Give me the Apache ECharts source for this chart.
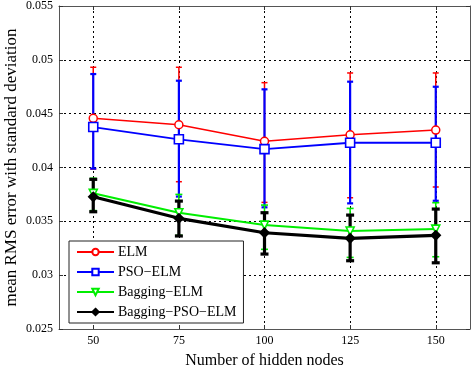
<!DOCTYPE html>
<html><head><meta charset="utf-8">
<script src="https://cdn.jsdelivr.net/npm/echarts@6/dist/echarts.min.js"></script>
<style>html,body{margin:0;padding:0;background:#fff}#c{width:474px;height:366px}</style>
</head><body><div id="c"></div>
<script>
const categories = [50, 75, 100, 125, 150];
const yTicks = [0.025, 0.03, 0.035, 0.04, 0.045, 0.05, 0.055];
const names = ['ELM', 'PSO\u2212ELM', 'Bagging\u2212ELM', 'Bagging\u2212PSO\u2212ELM'];
const elmMean = [0.04457, 0.04397, 0.04243, 0.04304, 0.04348];
const elmUpper = [0.04931, 0.04931, 0.04788, 0.04878, 0.04878];
const elmLower = [0.03986, 0.03868, 0.03676, 0.03719, 0.03819];
const psoMean = [0.04376, 0.04262, 0.04171, 0.0423, 0.0423];
const psoUpper = [0.04868, 0.04806, 0.04726, 0.04797, 0.0475];
const psoLower = [0.0399, 0.0373, 0.0363, 0.03667, 0.03691];
const bagMean = [0.0376, 0.0358, 0.03465, 0.0341, 0.03428];
const bagUpper = [0.0390, 0.0375, 0.03651, 0.0362, 0.03673];
const bagLower = [0.0360, 0.0337, 0.0324, 0.03165, 0.03171];
const bpMean = [0.03728, 0.03528, 0.03394, 0.03342, 0.0337];
const bpUpper = [0.0389, 0.03688, 0.0358, 0.03558, 0.03614];
const bpLower = [0.03589, 0.03364, 0.03196, 0.03134, 0.03115];

const FONT = '"Liberation Serif", "DejaVu Serif", serif';
const chart = echarts.init(document.getElementById('c'));

function errSeries(name, lower, upper, color, width, cap) {
  return {
    type: 'custom', name: name + '-err', silent: true,
    data: categories.map((x, i) => [x, lower[i], upper[i]]),
    encode: { x: 0, y: [1, 2] },
    renderItem: function (params, api) {
      const x = api.value(0);
      const lo = api.coord([x, api.value(1)]);
      const hi = api.coord([x, api.value(2)]);
      const st = { stroke: color, lineWidth: width };
      return { type: 'group', children: [
        { type: 'line', shape: { x1: lo[0], y1: lo[1], x2: hi[0], y2: hi[1] }, style: st },
        { type: 'line', shape: { x1: hi[0] - cap, y1: hi[1], x2: hi[0] + cap, y2: hi[1] }, style: st },
        { type: 'line', shape: { x1: lo[0] - cap, y1: lo[1], x2: lo[0] + cap, y2: lo[1] }, style: st }
      ]};
    }
  };
}
function lineSeries(name, mean, color, width, symbol, size, fill, rot) {
  return {
    type: 'line', name: name,
    data: categories.map((x, i) => [x, mean[i]]),
    symbol: symbol, symbolSize: size, symbolRotate: rot || 0, showAllSymbol: true,
    lineStyle: { color: color, width: width },
    itemStyle: { color: fill, borderColor: color, borderWidth: Math.min(width, 1.6) },
    emphasis: { disabled: true }
  };
}

const axisLine = { show: true, lineStyle: { color: '#555', width: 1 } };
const fmtY = v => String(+v.toFixed(3));

chart.setOption({
  animation: false,
  backgroundColor: '#fff',
  grid: { left: 59, right: 4, top: 6, bottom: 37, containLabel: false, outerBoundsMode: 'none' },
  legend: {
    data: names.map(n => ({ name: n })),
    orient: 'vertical', left: 69, top: 241,
    backgroundColor: '#fff', borderColor: '#222', borderWidth: 1,
    padding: [4, 7, 4, 7], itemWidth: 37, itemHeight: 8, itemGap: 6,
    textStyle: { fontFamily: FONT, fontSize: 14, lineHeight: 13, color: '#000', padding: [0, 0, 0, -1] }
  },
  xAxis: [{
    type: 'value', min: 40, max: 160, position: 'bottom',
    name: 'Number of hidden nodes', nameLocation: 'middle', nameGap: 24, nameMoveOverlap: false,
    nameTextStyle: { fontFamily: FONT, fontSize: 16, color: '#000' },
    axisLine: axisLine,
    axisTick: { show: true, inside: true, length: 4, customValues: categories, lineStyle: { color: '#333' } },
    axisLabel: { customValues: categories, fontFamily: FONT, fontSize: 12, color: '#000', margin: 6 },
    splitLine: { show: true, lineStyle: { color: '#000', type: [2, 3], width: 1 } }
  }, {
    type: 'value', min: 40, max: 160, position: 'top',
    axisLine: axisLine,
    axisTick: { show: true, inside: true, length: 4, customValues: categories, lineStyle: { color: '#333' } },
    axisLabel: { show: false }, splitLine: { show: false }
  }],
  yAxis: [{
    type: 'value', min: 0.025, max: 0.055, interval: 0.005, position: 'left',
    name: 'mean RMS error with standard deviation', nameLocation: 'middle', nameGap: 39, nameMoveOverlap: false,
    nameTextStyle: { fontFamily: FONT, fontSize: 17, color: '#000' },
    axisLine: axisLine,
    axisTick: { show: true, inside: true, length: 4, lineStyle: { color: '#333' } },
    axisLabel: { formatter: fmtY, fontFamily: FONT, fontSize: 12, color: '#000', margin: 6 },
    splitLine: { show: true, lineStyle: { color: '#000', type: [2, 3], width: 1 } }
  }, {
    type: 'value', min: 0.025, max: 0.055, interval: 0.005, position: 'right',
    axisLine: axisLine,
    axisTick: { show: true, inside: true, length: 4, lineStyle: { color: '#333' } },
    axisLabel: { show: false }, splitLine: { show: false }
  }],
  series: [
    errSeries('ELM', elmLower, elmUpper, '#ff0000', 1.5, 3),
    lineSeries(names[0], elmMean, '#ff0000', 1.5, 'circle', 8, '#fff'),
    errSeries('PSO', psoLower, psoUpper, '#0000ff', 2.2, 3),
    lineSeries(names[1], psoMean, '#0000ff', 1.8, 'rect', 9, '#fff'),
    errSeries('BAG', bagLower, bagUpper, '#00ee00', 1.6, 3.5),
    lineSeries(names[2], bagMean, '#00ee00', 2, 'triangle', 8, '#fff', 180),
    errSeries('BP', bpLower, bpUpper, '#000', 3.2, 4),
    lineSeries(names[3], bpMean, '#000', 3.2, 'diamond', 9, '#000')
  ]
});
</script></body></html>
